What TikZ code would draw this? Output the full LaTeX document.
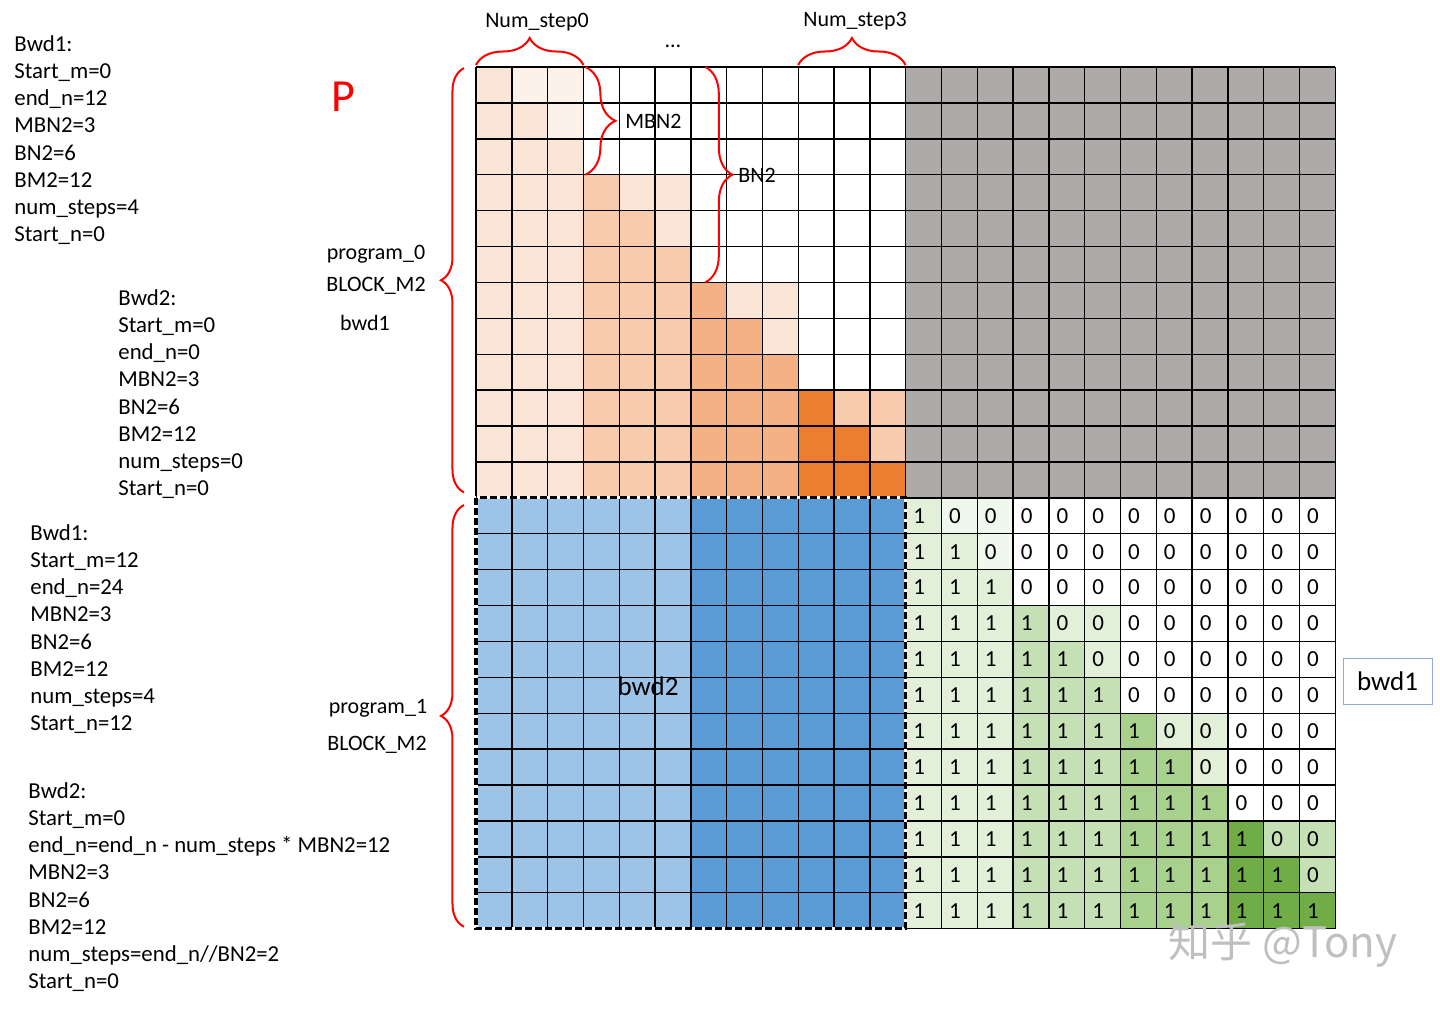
\documentclass[tikz,border=0pt]{standalone}
\usepackage{fontspec}
\setmainfont{Carlito}
\newfontfamily\cjkfont{Noto Sans CJK SC}
\usetikzlibrary{decorations.pathreplacing}

\definecolor{o0}{HTML}{FDF2EA}
\definecolor{o1}{HTML}{FBE5D6}
\definecolor{o2}{HTML}{F8CBAD}
\definecolor{o3}{HTML}{F4B183}
\definecolor{o4}{HTML}{ED7D31}
\definecolor{g0}{HTML}{F0F7EC}
\definecolor{g1}{HTML}{E2F0D9}
\definecolor{g2}{HTML}{C5E0B4}
\definecolor{g3}{HTML}{A9D18E}
\definecolor{g4}{HTML}{70AD47}
\definecolor{b1}{HTML}{9DC3E6}
\definecolor{b2}{HTML}{5B9BD5}
\definecolor{gy}{HTML}{AEAAAA}
\definecolor{boxc}{HTML}{8FAADC}

\begin{document}
\begin{tikzpicture}[x=0.5pt,y=-0.5pt,
    txt/.style={font=\fontsize{11}{13.6}\selectfont, inner sep=0pt},
    info/.style={font=\fontsize{11.4}{13.6}\selectfont, inner sep=0pt, align=left, anchor=north west},
    big/.style={font=\fontsize{13.5}{14}\selectfont, inner sep=0pt},
    num/.style={font=\fontsize{11.5}{12}\selectfont, inner sep=0pt},
    gridline/.style={line width=0.7pt},
    qborder/.style={line width=1.6pt, dash pattern=on 3.5pt off 1.5pt},
    redbrace/.style={draw=red, line width=1pt, decorate,
      decoration={brace, amplitude=#1, raise=1pt}}]
  \useasboundingbox (0,0) rectangle (1440,1008);

  % the 24x24 matrix, one unit per cell
  \begin{scope}[shift={(476,67)}, x=17.9pt, y=-17.95pt]
    % orange (bwd1) and green (mask) triangles
    \foreach \q/\s in {o/0, g/12}{
      \foreach \k/\lo/\hi in {0/0/1, 1/1/2, 2/1/3, 3/2/4}{
        \fill[fill=\q\hi] (\s+3*\k,\s+3*\k) rectangle (\s+3*\k+3,\s+12);
        \foreach \i in {0,1,2}{
          \foreach \j in {0,1,2}{
            \ifnum\j>\i\relax \fill[fill=\q\lo] (\s+3*\k+\j,\s+3*\k+\i) rectangle ++(1,1); \fi
          }
        }
      }
    }
    \fill[fill=gy] (12,0) rectangle (24,12);
    \fill[fill=b1] (0,12) rectangle (6,24);
    \fill[fill=b2] (6,12) rectangle (12,24);
    \foreach \i in {0,...,24}{
      \draw[gridline] (\i,0) -- (\i,24);
      \draw[gridline] (0,\i) -- (24,\i);
    }
    \draw[white, line width=1.6pt] (0,12) rectangle (12,24);
    \draw[qborder] (0,12) rectangle (12,24);
    % causal mask values
    \foreach \r in {0,...,11}{
      \foreach \c in {0,...,11}{
        \node[num] (n\r-\c) at (12.38+\c,12.5+\r) {\ifnum\c>\r\relax 0\else 1\fi};
      }
    }
    \coordinate (s0a) at (0,0);  \coordinate (s0b) at (3,0);
    \coordinate (s3a) at (9,0);  \coordinate (s3b) at (12,0);
    \coordinate (mbnA) at (3,0); \coordinate (mbnB) at (3,3);
    \coordinate (bnA) at (6.35,0); \coordinate (bnB) at (6.35,6);
    \coordinate (p0a) at (-0.28,11.85); \coordinate (p0b) at (-0.28,0.03);
    \coordinate (p1a) at (-0.28,23.95); \coordinate (p1b) at (-0.28,12.2);
  \end{scope}

  % braces
  \draw[redbrace=13.5pt] (s0a) -- (s0b);
  \draw[redbrace=13.5pt] (s3a) -- (s3b);
  \draw[redbrace=15pt] (mbnA) -- (mbnB);
  \draw[redbrace=13.5pt] (bnA) -- (bnB);
  \draw[redbrace=11.5pt] (p0a) -- (p0b);
  \draw[redbrace=11.5pt] (p1a) -- (p1b);

  \node[txt] (ns0) at (537,22) {Num\_step0};
  \node[txt] (ns3) at (855,21) {Num\_step3};
  \node[txt] (dots) at (673,46) {…};
  \node[txt, anchor=west] (mbn) at (625,121) {MBN2};
  \node[txt, anchor=west] (bn) at (738,175) {BN2};

  \node[font=\fontsize{23}{23}\selectfont, text=red, inner sep=0pt] (P) at (343,97) {P};
  \node[txt] (prog0) at (376,254) {program\_0};
  \node[txt] (blk0) at (376,286) {BLOCK\_M2};
  \node[txt] (fwd0) at (365,323) {bwd1};
  \node[txt] (prog1) at (378,708) {program\_1};
  \node[txt] (blk1) at (377,745) {BLOCK\_M2};

  % parameters of each kernel
  \node[info] (par0a) at (14,35) {Bwd1:\\Start\_m=0\\end\_n=12\\MBN2=3\\BN2=6\\BM2=12\\num\_steps=4\\Start\_n=0};
  \node[info] (par0b) at (118,289) {Bwd2:\\Start\_m=0\\end\_n=0\\MBN2=3\\BN2=6\\BM2=12\\num\_steps=0\\Start\_n=0};
  \node[info] (par1a) at (30,524) {Bwd1:\\Start\_m=12\\end\_n=24\\MBN2=3\\BN2=6\\BM2=12\\num\_steps=4\\Start\_n=12};
  \node[info] (par1b) at (28,782) {Bwd2:\\Start\_m=0\\end\_n=end\_n - num\_steps * MBN2=12\\MBN2=3\\BN2=6\\BM2=12\\num\_steps=end\_n//BN2=2\\Start\_n=0};

  \node[big] (bwd2) at (648,686) {bwd2};
  \node[big, draw=boxc, line width=0.5pt, minimum width=44.5pt, minimum height=23pt] (bwd1box) at (1387.5,681) {bwd1};

  \node[font=\cjkfont\fontsize{21}{21}\selectfont, text=black!25, inner sep=0pt] (wm) at (1283,945) {知乎 @Tony};
\end{tikzpicture}
\end{document}
